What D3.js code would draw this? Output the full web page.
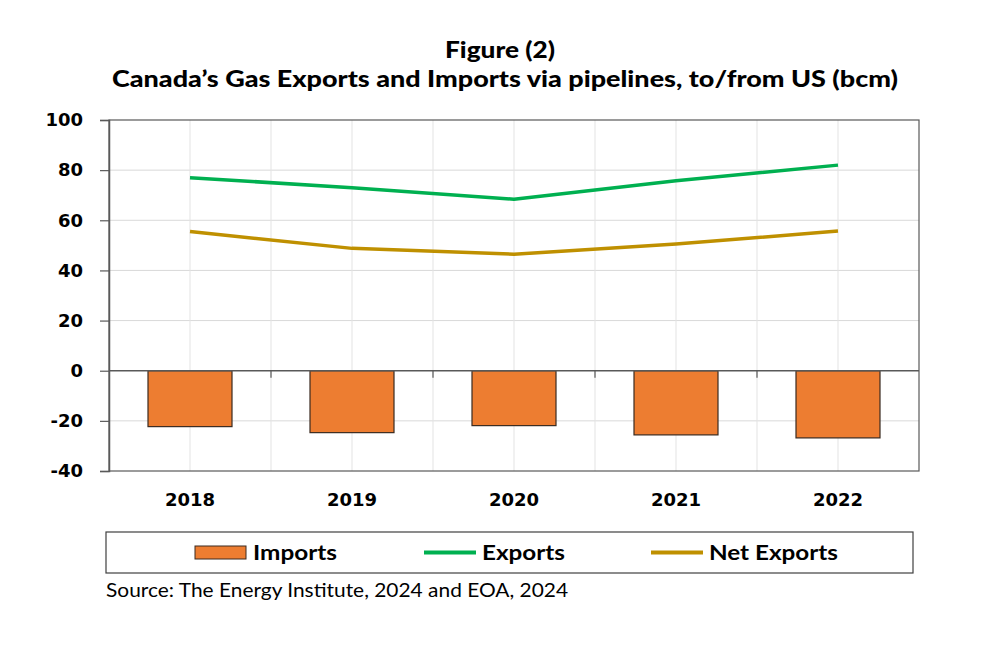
<!DOCTYPE html>
<html>
<head>
<meta charset="utf-8">
<script src="https://cdn.jsdelivr.net/npm/d3@7/dist/d3.min.js"></script>
<style>
  html, body { margin: 0; padding: 0; background: #fff; }
  svg { display: block; }
</style>
</head>
<body>
<svg id="chart" width="985" height="645"></svg>
<script>
const years = ["2018", "2019", "2020", "2021", "2022"];
const imports = [-22.3, -24.7, -21.9, -25.6, -26.8];
const exports_ = [77.0, 73.0, 68.4, 75.8, 82.0];
const netExports = [55.5, 48.8, 46.5, 50.5, 55.7];
const yTicks = [-40, -20, 0, 20, 40, 60, 80, 100];
const titleLines = ["Figure (2)", "Canada\u2019s Gas Exports and Imports via pipelines, to/from US (bcm)"];
const legendLabels = ["Imports", "Exports", "Net Exports"];
const sourceText = "Source: The Energy Institute, 2024 and EOA, 2024";

const svg = d3.select("#chart");
const pL = 109, pR = 919, pT = 120, pB = 471;

const x = d3.scaleBand().domain(years).range([pL, pR]).paddingInner(0).paddingOuter(0);
const y = d3.scaleLinear().domain([-40, 100]).range([pB, pT]);

const calibri = "Lato, 'Open Sans', sans-serif";
const tickFont = "'DejaVu Sans', Verdana, sans-serif";

// title
svg.append("text").attr("x", 500).attr("y", 58).attr("text-anchor", "middle")
  .attr("font-family", calibri).attr("font-weight", "900").attr("font-size", 23)
  .attr("textLength", 110).attr("lengthAdjust", "spacingAndGlyphs")
  .attr("fill", "#000").text(titleLines[0]);
svg.append("text").attr("x", 505).attr("y", 87).attr("text-anchor", "middle")
  .attr("font-family", calibri).attr("font-weight", "900").attr("font-size", 23)
  .attr("textLength", 786).attr("lengthAdjust", "spacingAndGlyphs")
  .attr("fill", "#000").text(titleLines[1]);

// horizontal gridlines
svg.append("g").selectAll("line").data(yTicks.filter(d => d !== 0 && d !== -40 && d !== 100)).join("line")
  .attr("x1", pL).attr("x2", pR)
  .attr("y1", d => y(d)).attr("y2", d => y(d))
  .attr("stroke", "#d9d9d9").attr("stroke-width", 1);

// vertical gridlines (category centers and boundaries)
const vx = [];
years.forEach((yr, i) => {
  vx.push(x(yr) + x.bandwidth() / 2);
  if (i > 0) vx.push(x(yr));
});
svg.append("g").selectAll("line").data(vx).join("line")
  .attr("x1", d => d).attr("x2", d => d)
  .attr("y1", pT).attr("y2", pB)
  .attr("stroke", "#e3e3e3").attr("stroke-width", 1);

// bars
svg.append("g").selectAll("rect").data(years).join("rect")
  .attr("x", d => x(d) + x.bandwidth() / 2 - 42)
  .attr("width", 84)
  .attr("y", y(0))
  .attr("height", (d, i) => y(imports[i]) - y(0))
  .attr("fill", "#ed7d31").attr("stroke", "#3a2a20").attr("stroke-width", 1.2);

// plot border
svg.append("rect").attr("x", pL).attr("y", pT).attr("width", pR - pL).attr("height", pB - pT)
  .attr("fill", "none").attr("stroke", "#595959").attr("stroke-width", 1.2);

// zero line
svg.append("line").attr("x1", pL).attr("x2", pR).attr("y1", y(0)).attr("y2", y(0))
  .attr("stroke", "#595959").attr("stroke-width", 1.5);

// x ticks at boundaries on zero line
svg.append("g").selectAll("line").data(years.slice(1)).join("line")
  .attr("x1", d => x(d)).attr("x2", d => x(d))
  .attr("y1", y(0)).attr("y2", y(0) + 7)
  .attr("stroke", "#595959").attr("stroke-width", 1.2);

// y axis
const yAxis = svg.append("g").attr("transform", `translate(${pL},0)`)
  .call(d3.axisLeft(y).tickValues(yTicks).tickFormat(d => String(d)).tickSize(9).tickPadding(17));
yAxis.select(".domain").attr("stroke", "#595959").attr("stroke-width", 1.5);
yAxis.selectAll(".tick line").attr("stroke", "#595959").attr("stroke-width", 1.2);
yAxis.selectAll(".tick text").attr("font-family", tickFont).attr("font-weight", "bold")
  .attr("font-size", 18).attr("fill", "#000");

// x labels
const xAxis = svg.append("g").attr("transform", `translate(0,${pB})`)
  .call(d3.axisBottom(x).tickSize(0).tickPadding(22));
xAxis.select(".domain").remove();
xAxis.selectAll(".tick text").attr("font-family", tickFont).attr("font-weight", "bold")
  .attr("font-size", 18).attr("fill", "#000");

// lines
const line = d3.line().x((d, i) => x(years[i]) + x.bandwidth() / 2).y(d => y(d));
svg.append("path").datum(exports_).attr("d", line)
  .attr("fill", "none").attr("stroke", "#00b050").attr("stroke-width", 3.5).attr("stroke-linejoin", "round");
svg.append("path").datum(netExports).attr("d", line)
  .attr("fill", "none").attr("stroke", "#bf9000").attr("stroke-width", 3.5).attr("stroke-linejoin", "round");

// legend
svg.append("rect").attr("x", 106).attr("y", 532).attr("width", 807).attr("height", 41)
  .attr("fill", "#fff").attr("stroke", "#404040").attr("stroke-width", 1.2);
const ly = 552.5;
svg.append("rect").attr("x", 195).attr("y", ly - 6.5).attr("width", 51).attr("height", 13)
  .attr("fill", "#ed7d31").attr("stroke", "#3a2a20").attr("stroke-width", 1);
svg.append("line").attr("x1", 424).attr("x2", 476).attr("y1", ly).attr("y2", ly)
  .attr("stroke", "#00b050").attr("stroke-width", 4);
svg.append("line").attr("x1", 651).attr("x2", 703).attr("y1", ly).attr("y2", ly)
  .attr("stroke", "#bf9000").attr("stroke-width", 4);
const legX = [253, 482, 709], legW = [84, 83, 129];
legendLabels.forEach((t, i) => {
  svg.append("text").attr("x", legX[i]).attr("y", ly + 7.5)
    .attr("font-family", calibri).attr("font-weight", "bold").attr("font-size", 21)
    .attr("textLength", legW[i]).attr("lengthAdjust", "spacingAndGlyphs")
    .attr("fill", "#000").text(t);
});

// source
svg.append("text").attr("x", 106).attr("y", 597)
  .attr("font-family", calibri).attr("font-size", 19)
  .attr("textLength", 462).attr("lengthAdjust", "spacingAndGlyphs")
  .attr("fill", "#000").text(sourceText);
</script>
</body>
</html>
